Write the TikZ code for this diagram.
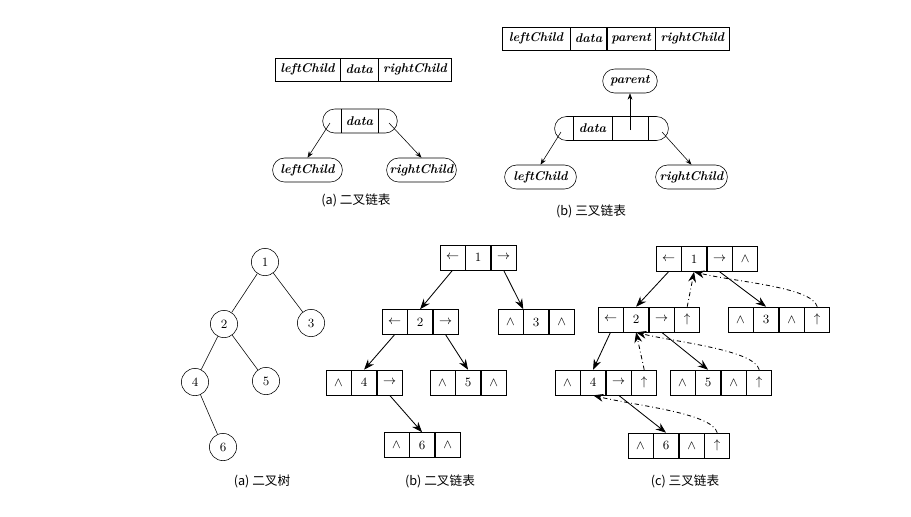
\documentclass[tikz,border=0pt]{standalone}
\usepackage{fontspec}
\newfontfamily\cjk{Noto Sans CJK SC}
\usetikzlibrary{positioning, arrows.meta, calc, shapes.misc}

\begin{document}
\begin{tikzpicture}[
    x=0.025cm, y=-0.025cm,
    rec/.style={draw, minimum height=0.58cm, inner sep=2pt, font=\small\bfseries\itshape},
    pill/.style={draw, rounded rectangle, minimum height=0.6cm, font=\small\bfseries\itshape},
    cell/.style={draw, minimum width=0.625cm, minimum height=0.625cm, inner sep=0pt, font=\small},
    vertex/.style={draw, circle, minimum size=0.68cm, inner sep=0pt, font=\small},
    thin arrow/.style={-{Stealth[length=1.6mm, width=1.2mm]}},
    arrow/.style={-{Stealth[length=2.6mm]}, semithick},
    parent link/.style={-{Stealth[length=2.6mm]}, semithick, dash dot},
    caption/.style={font=\small\cjk},
]
\useasboundingbox (0,0) rectangle (911,516);

% (a) binary linked node
\node[rec, minimum width=1.63cm] (alc) at (307.5,69.5) {leftChild};
\node[rec, minimum width=0.93cm, right=0pt of alc] (ad) {data};
\node[rec, minimum width=1.83cm, right=0pt of ad] (arc) {rightChild};

\node[pill, minimum width=2.1cm] (apill) at (360,121) {};
\draw (341,109) -- (341,133) (378,109) -- (378,133);
\node[font=\small\bfseries\itshape] at (359.5,121) {data};
\node[pill, minimum width=1.98cm] (aleft) at (307.5,170) {leftChild};
\node[pill, minimum width=1.98cm] (aright) at (421.5,170) {rightChild};
\draw[thin arrow] (330,123) -- (aleft.north);
\draw[thin arrow] (389,123) -- (aright.north);
\node[caption] (capa) at (356,200) {(a)\ 二叉链表};

% (b) trinary linked node
\node[rec, minimum width=1.7cm] (blc) at (536,38.5) {leftChild};
\node[rec, minimum width=0.9cm, right=0pt of blc] (bd) {data};
\node[rec, minimum width=1.2cm, right=0pt of bd] (bp) {parent};
\node[rec, minimum width=1.83cm, right=0pt of bp] (brc) {rightChild};

\node[pill, minimum width=1.6cm] (bpar) at (630,81) {parent};
\node[pill, minimum width=3.08cm] (bpill) at (611.5,128.5) {};
\draw (573,116) -- (573,141) (612,116) -- (612,141) (648,116) -- (648,141);
\node[font=\small\bfseries\itshape] at (592.5,128.5) {data};
\node[pill, minimum width=2.03cm] (bleft) at (540.5,177) {leftChild};
\node[pill, minimum width=2.03cm] (bright) at (691.5,177) {rightChild};
\draw[thin arrow] (630,130) -- (bpar.south);
\draw[thin arrow] (561,132) -- (bleft.north);
\draw[thin arrow] (662,132) -- (bright.north);
\node[caption] (capb) at (591,211) {(b)\ 三叉链表};

% (a) binary tree
\node[vertex] (t1) at (265,262) {1};
\node[vertex] (t2) at (224,324) {2};
\node[vertex] (t3) at (311,323) {3};
\node[vertex] (t4) at (195,382) {4};
\node[vertex] (t5) at (266,381) {5};
\node[vertex] (t6) at (223,447) {6};
\draw (t1) -- (t2) (t1) -- (t3) (t2) -- (t4) (t2) -- (t5) (t4) -- (t6);
\node[caption] (capt) at (262,481) {(a)\ 二叉树};

% (b) binary linked list
\node[cell] (b1a) at (452.5,257.5) {$\leftarrow$};
\node[cell, right=0pt of b1a] (b1b) {1};
\node[cell, right=0pt of b1b] (b1c) {$\rightarrow$};
\node[cell] (b2a) at (394.5,322) {$\leftarrow$};
\node[cell, right=0pt of b2a] (b2b) {2};
\node[cell, right=0pt of b2b] (b2c) {$\rightarrow$};
\node[cell] (b3a) at (510.5,322) {$\wedge$};
\node[cell, right=0pt of b3a] (b3b) {3};
\node[cell, right=0pt of b3b] (b3c) {$\wedge$};
\node[cell] (b4a) at (338.5,382.5) {$\wedge$};
\node[cell, right=0pt of b4a] (b4b) {4};
\node[cell, right=0pt of b4b] (b4c) {$\rightarrow$};
\node[cell] (b5a) at (442.5,382.5) {$\wedge$};
\node[cell, right=0pt of b5a] (b5b) {5};
\node[cell, right=0pt of b5b] (b5c) {$\wedge$};
\node[cell] (b6a) at (396.5,445) {$\wedge$};
\node[cell, right=0pt of b6a] (b6b) {6};
\node[cell, right=0pt of b6b] (b6c) {$\wedge$};
\draw[arrow] (b1a.south) -- (b2b.north);
\draw[arrow] (b1c.south) -- (b3a.north east);
\draw[arrow] (b2a.south) -- (b4b.north);
\draw[arrow] (b2c.south) -- (b5b.north);
\draw[arrow] (b4c.south) -- (b6b.north);
\node[caption] (capbl) at (440,481) {(b)\ 二叉链表};

% (c) trinary linked list
\node[cell] (c1a) at (668.5,259) {$\leftarrow$};
\node[cell, right=0pt of c1a] (c1b) {1};
\node[cell, right=0pt of c1b] (c1c) {$\rightarrow$};
\node[cell, right=0pt of c1c] (c1d) {$\wedge$};
\node[cell] (c2a) at (610.5,319.5) {$\leftarrow$};
\node[cell, right=0pt of c2a] (c2b) {2};
\node[cell, right=0pt of c2b] (c2c) {$\rightarrow$};
\node[cell, right=0pt of c2c] (c2d) {$\uparrow$};
\node[cell] (c3a) at (740.5,319.5) {$\wedge$};
\node[cell, right=0pt of c3a] (c3b) {3};
\node[cell, right=0pt of c3b] (c3c) {$\wedge$};
\node[cell, right=0pt of c3c] (c3d) {$\uparrow$};
\node[cell] (c4a) at (567.5,382.5) {$\wedge$};
\node[cell, right=0pt of c4a] (c4b) {4};
\node[cell, right=0pt of c4b] (c4c) {$\rightarrow$};
\node[cell, right=0pt of c4c] (c4d) {$\uparrow$};
\node[cell] (c5a) at (682.5,382.5) {$\wedge$};
\node[cell, right=0pt of c5a] (c5b) {5};
\node[cell, right=0pt of c5b] (c5c) {$\wedge$};
\node[cell, right=0pt of c5c] (c5d) {$\uparrow$};
\node[cell] (c6a) at (640.5,445.5) {$\wedge$};
\node[cell, right=0pt of c6a] (c6b) {6};
\node[cell, right=0pt of c6b] (c6c) {$\wedge$};
\node[cell, right=0pt of c6c] (c6d) {$\uparrow$};
\draw[arrow] (c1a.south) -- (c2b.north);
\draw[arrow] (c1c.south) -- (c3b.north);
\draw[arrow] (c2a.south) -- (c4b.north);
\draw[arrow] (c2c.south) -- (c5b.north);
\draw[arrow] (c4c.south) -- (c6b.north);
\draw[parent link] (c2d.north) -- (c1b.south);
\draw[parent link] (c4d.north) -- (c2b.south);
\draw[parent link] (c3d.north) .. controls ($(c3d.north)+(-5,-20)$) and ($(c1b.south)+(40,10)$) .. (c1b.south);
\draw[parent link] (c5d.north) .. controls ($(c5d.north)+(-5,-20)$) and ($(c2b.south)+(40,10)$) .. (c2b.south);
\draw[parent link] (c6d.north) .. controls ($(c6d.north)+(-5,-20)$) and ($(c4b.south)+(40,10)$) .. (c4b.south);
\node[caption] (capc) at (685,481) {(c)\ 三叉链表};
\end{tikzpicture}
\end{document}
